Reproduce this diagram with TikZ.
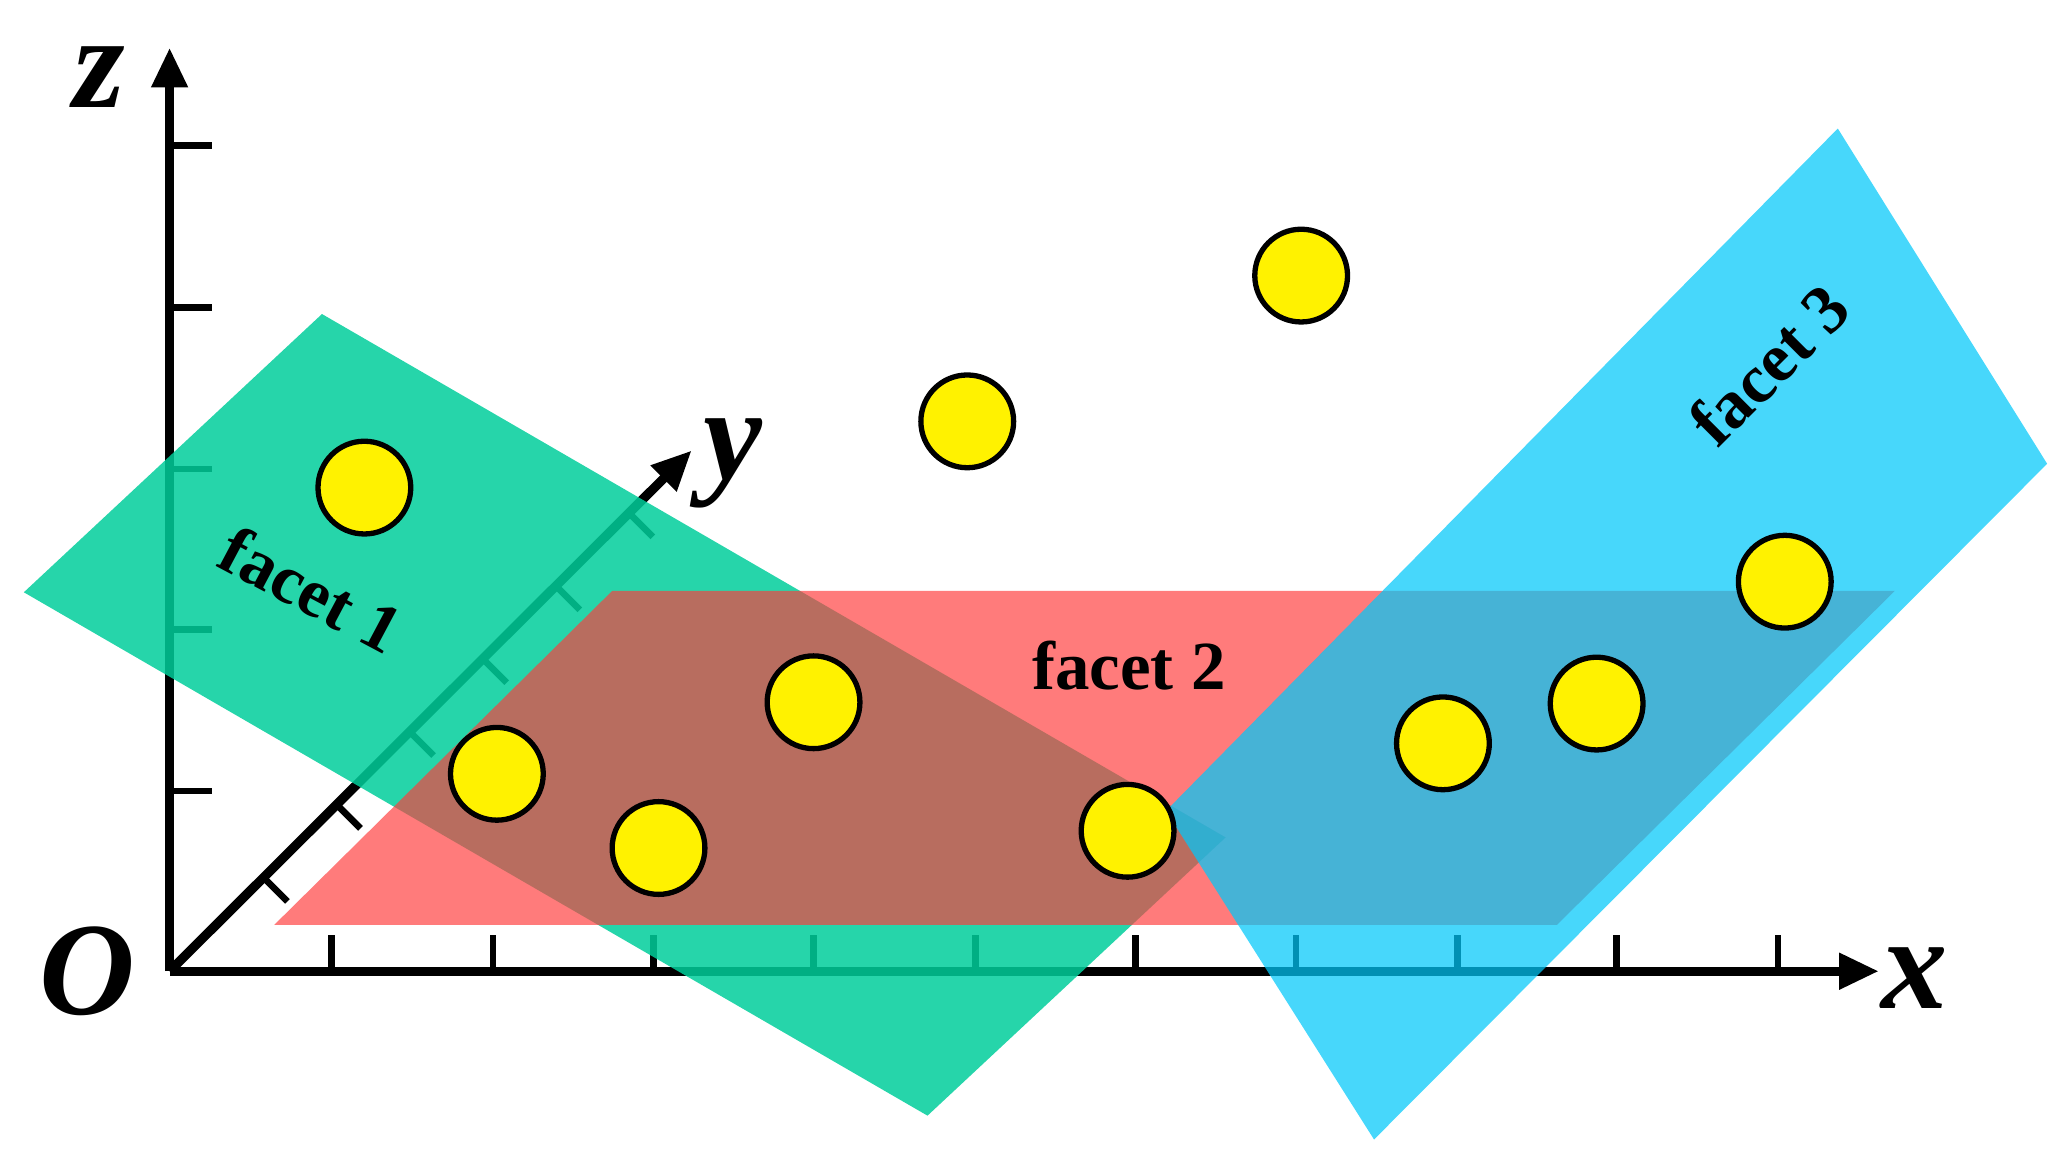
\documentclass[tikz,border=0pt]{standalone}
\usepackage{fontspec}
\setmainfont{Liberation Serif}
\usetikzlibrary{arrows.meta,calc}
\begin{document}
\begin{tikzpicture}[x=1pt,y=-1pt,
  ax/.style={line width=7pt,-{Triangle[length=30pt,width=26pt]}},
  tk/.style={line width=5pt},
  dot/.style={circle,draw=black,line width=4pt,fill=yellow,minimum size=70pt,inner sep=0pt},
  lab/.style={font=\fontsize{100}{110}\selectfont\bfseries\itshape,inner sep=0pt},
  flab/.style={font=\fontsize{52}{58}\selectfont\bfseries,inner sep=0pt}]
\useasboundingbox (0,0) rectangle (1560,880);
% axes
\coordinate (O) at (128,733);
\coordinate (Z) at (128,36);
\coordinate (X) at (1418,733);
\coordinate (Y) at (522,340);
\draw[ax] (O) -- (Z);
\draw[ax] (O) -- (X);
\draw[ax] (O) -- (Y);
\foreach \y in {110,232,354,475,597} \draw[tk] (128,\y) -- (160,\y);
\foreach \x in {250,372,493,614,736,857,978,1100,1220,1342} \draw[tk] (\x,733) -- (\x,706);
\foreach \t in {0.18,0.32,0.46,0.60,0.74,0.88} \draw[tk] ($(O)!\t!(Y)$) -- ++(18,18);
\node[lab] (lz) at (75,58) {z};
\node[lab] (lx) at (1445,738) {x};
\node[lab] (ly) at (553,350) {y};
\node[lab] (lo) at (66,733) {O};
% facets
\fill[fill={rgb,255:red,0;green,206;blue,155},opacity=0.85] (18,447) -- (243,237) -- (925,632) -- (700,842) -- cycle;
\fill[fill={rgb,255:red,255;green,60;blue,60},opacity=0.68] (207,698) -- (462,446) -- (1430,446) -- (1175,698) -- cycle;
\fill[fill={rgb,255:red,0;green,200;blue,250},opacity=0.72] (1387,97) -- (1545,350) -- (1037,860) -- (880,612) -- cycle;
\node[flab,rotate=-28] (f1) at (235,445) {facet 1};
\node[flab] (f2) at (852,502) {facet 2};
\node[flab,rotate=45] (f3) at (1335,275) {facet 3};
% points
\foreach \p/\q [count=\i] in {275/368,730/318,982/208,375/584,497/640,614/530,851/627,1089/561,1205/531,1347/439}
  \node[dot] (p\i) at (\p,\q) {};
\end{tikzpicture}
\end{document}
